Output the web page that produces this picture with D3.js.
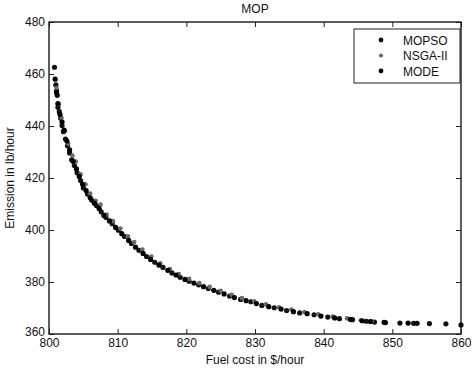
<!DOCTYPE html>
<html>
<head>
<meta charset="utf-8">
<script src="https://cdn.jsdelivr.net/npm/d3@7"></script>
<style>
  body { margin: 0; background: #fff; }
  text { font-family: Arial, "Liberation Sans", sans-serif; fill: #111; }
</style>
</head>
<body>
<div id="chart"></div>
<script>
// fuel cost ($/hour), emission (lb/hour)
const mopso = [
  [800.8,462.6],[801.0,455.8],[801.1,453.5],[801.2,451.8],[801.3,447.2],[801.5,445.5],[801.7,443.0],
  [801.9,440.2],[802.1,437.8],[802.4,435.0],[802.7,432.4],[803.0,429.6],[803.3,427.0],[803.7,424.8],
  [804.1,422.0],[804.6,419.0],[805.0,416.2],[805.6,413.8],[806.2,411.5],[806.9,409.4],[807.6,407.0],
  [808.3,404.8],[809.2,402.4],[810.1,399.9],[811.0,397.5],[812.0,394.8],[813.1,392.2],[814.2,389.8],
  [815.4,387.6],[816.6,385.6],[817.9,383.5],[819.1,381.8],[820.4,380.3],[821.8,378.9],[823.2,377.5],
  [824.7,376.1],[826.3,374.6],[827.9,373.3],[829.4,372.4],[831.0,371.0],[832.8,370.1],[834.6,369.0],
  [836.5,368.1],[838.6,367.4],[840.6,366.5],[842.3,365.9],[844.2,365.5],[846.2,364.9],[847.4,364.6],
  [849.0,364.4],[851.1,364.2],[853.1,364.1],[855.4,364.0],[857.8,363.9],[860.0,363.5]
];
const nsga2 = [
  [801.1,454.6],[801.4,448.4],[801.8,443.2],[802.3,438.0],[802.8,433.2],[803.4,428.6],[803.9,426.3],
  [804.6,421.4],[805.3,417.6],[806.0,414.0],[806.8,411.2],[807.5,409.8],[808.4,405.9],[809.3,403.4],
  [810.4,400.6],[811.5,397.6],[812.4,395.4],[813.6,392.5],[814.9,389.8],[816.2,387.2],[817.6,385.0],
  [818.9,383.1],[820.4,381.2],[821.9,379.6],[823.4,378.2],[825.0,376.6],[826.6,375.1],[828.1,373.8],
  [829.9,372.6],[831.6,371.4],[833.5,370.3],[835.3,369.4],[837.2,368.4],[839.2,367.6],[841.3,366.7],
  [843.4,366.0],[845.4,365.3],[847.0,364.9]
];
const mode = [
  [800.9,458.0],[801.1,452.9],[801.3,448.6],[801.6,444.4],[801.9,441.5],[802.2,438.4],[802.6,434.2],
  [803.0,430.8],[803.5,426.4],[804.0,423.5],[804.4,420.6],[804.9,417.6],[805.4,415.2],[806.0,412.4],
  [806.6,410.3],[807.3,408.3],[808.0,405.6],[808.8,403.5],[809.7,401.0],[810.6,398.6],[811.6,396.0],
  [812.6,393.4],[813.7,391.0],[814.8,388.7],[816.0,386.5],[817.3,384.5],[818.5,382.7],[819.8,381.0],
  [821.1,379.6],[822.5,378.2],[824.0,376.8],[825.5,375.4],[827.0,374.0],[828.7,372.8],[830.2,371.7],
  [832.0,370.5],[833.8,369.6],[835.6,368.6],[837.6,367.8],[839.6,366.9],[841.6,366.2],[843.9,365.6],
  [845.6,365.1],[846.8,364.8],[848.8,364.5],[852.3,364.2],[853.6,364.1]
];
const xTicks = [800, 810, 820, 830, 840, 850, 860];
const yTicks = [360, 380, 400, 420, 440, 460, 480];
const seriesNames = ["MOPSO", "NSGA-II", "MODE"];
const seriesColors = ["#111", "#6a6a6a", "#000"];

const width = 474, height = 368;
const margin = { top: 22, right: 13, bottom: 34, left: 49 };
const w = width - margin.left - margin.right;
const h = height - margin.top - margin.bottom;

const svg = d3.select("#chart").append("svg")
  .attr("width", width)
  .attr("height", height);

const g = svg.append("g")
  .attr("transform", `translate(${margin.left},${margin.top})`);

const x = d3.scaleLinear().domain([800, 860]).range([0, w]);
const y = d3.scaleLinear().domain([360, 480]).range([h, 0]);

// axes with inward ticks, matlab box style
function styleAxis(sel) {
  sel.select(".domain").remove();
  sel.selectAll("line").attr("stroke", "#222");
  sel.selectAll("text").style("font-size", "12px").attr("fill", "#111");
}
g.append("g").attr("transform", `translate(0,${h})`)
  .call(d3.axisBottom(x).tickValues(xTicks).tickSize(-5).tickPadding(4))
  .call(styleAxis);
g.append("g")
  .call(d3.axisTop(x).tickValues(xTicks).tickSize(-5).tickFormat(""))
  .call(styleAxis);
g.append("g")
  .call(d3.axisLeft(y).tickValues(yTicks).tickSize(-5).tickPadding(4))
  .call(styleAxis);
g.append("g").attr("transform", `translate(${w},0)`)
  .call(d3.axisRight(y).tickValues(yTicks).tickSize(-5).tickFormat(""))
  .call(styleAxis);

// nudge the bottom y label up a little, like the original
g.selectAll(".tick text").filter(d => d === 360).attr("dy", "0.1em");

g.append("rect")
  .attr("width", w).attr("height", h)
  .attr("fill", "none").attr("stroke", "#1a1a1a").attr("stroke-width", 1.4);

// points
const allSeries = [mopso, nsga2, mode];
allSeries.forEach((data, i) => {
  g.append("g").selectAll("circle")
    .data(data)
    .join("circle")
    .attr("cx", d => x(d[0]))
    .attr("cy", d => y(d[1]))
    .attr("r", i === 1 ? 2.3 : 2.6)
    .attr("fill", seriesColors[i]);
});

// title and labels
svg.append("text")
  .attr("x", margin.left + w / 2).attr("y", 13)
  .attr("text-anchor", "middle").style("font-size", "12px")
  .text("MOP");
svg.append("text")
  .attr("x", margin.left + w / 2).attr("y", 364)
  .attr("text-anchor", "middle").style("font-size", "12px")
  .text("Fuel cost in $/hour");
svg.append("text")
  .attr("transform", `translate(14,${margin.top + h / 2}) rotate(-90)`)
  .attr("text-anchor", "middle").style("font-size", "12px")
  .text("Emission in lb/hour");

// legend
const legend = svg.append("g").attr("transform", "translate(354,29)");
legend.append("rect")
  .attr("width", 106).attr("height", 54)
  .attr("fill", "#fff").attr("stroke", "#222").attr("stroke-width", 1);
seriesNames.forEach((name, i) => {
  const ly = 11 + i * 15.5;
  legend.append("circle")
    .attr("cx", 27).attr("cy", ly)
    .attr("r", i === 1 ? 2.1 : 2.4)
    .attr("fill", seriesColors[i]);
  legend.append("text")
    .attr("x", 49).attr("y", ly + 4.5)
    .style("font-size", "12px")
    .text(name);
});
</script>
</body>
</html>
